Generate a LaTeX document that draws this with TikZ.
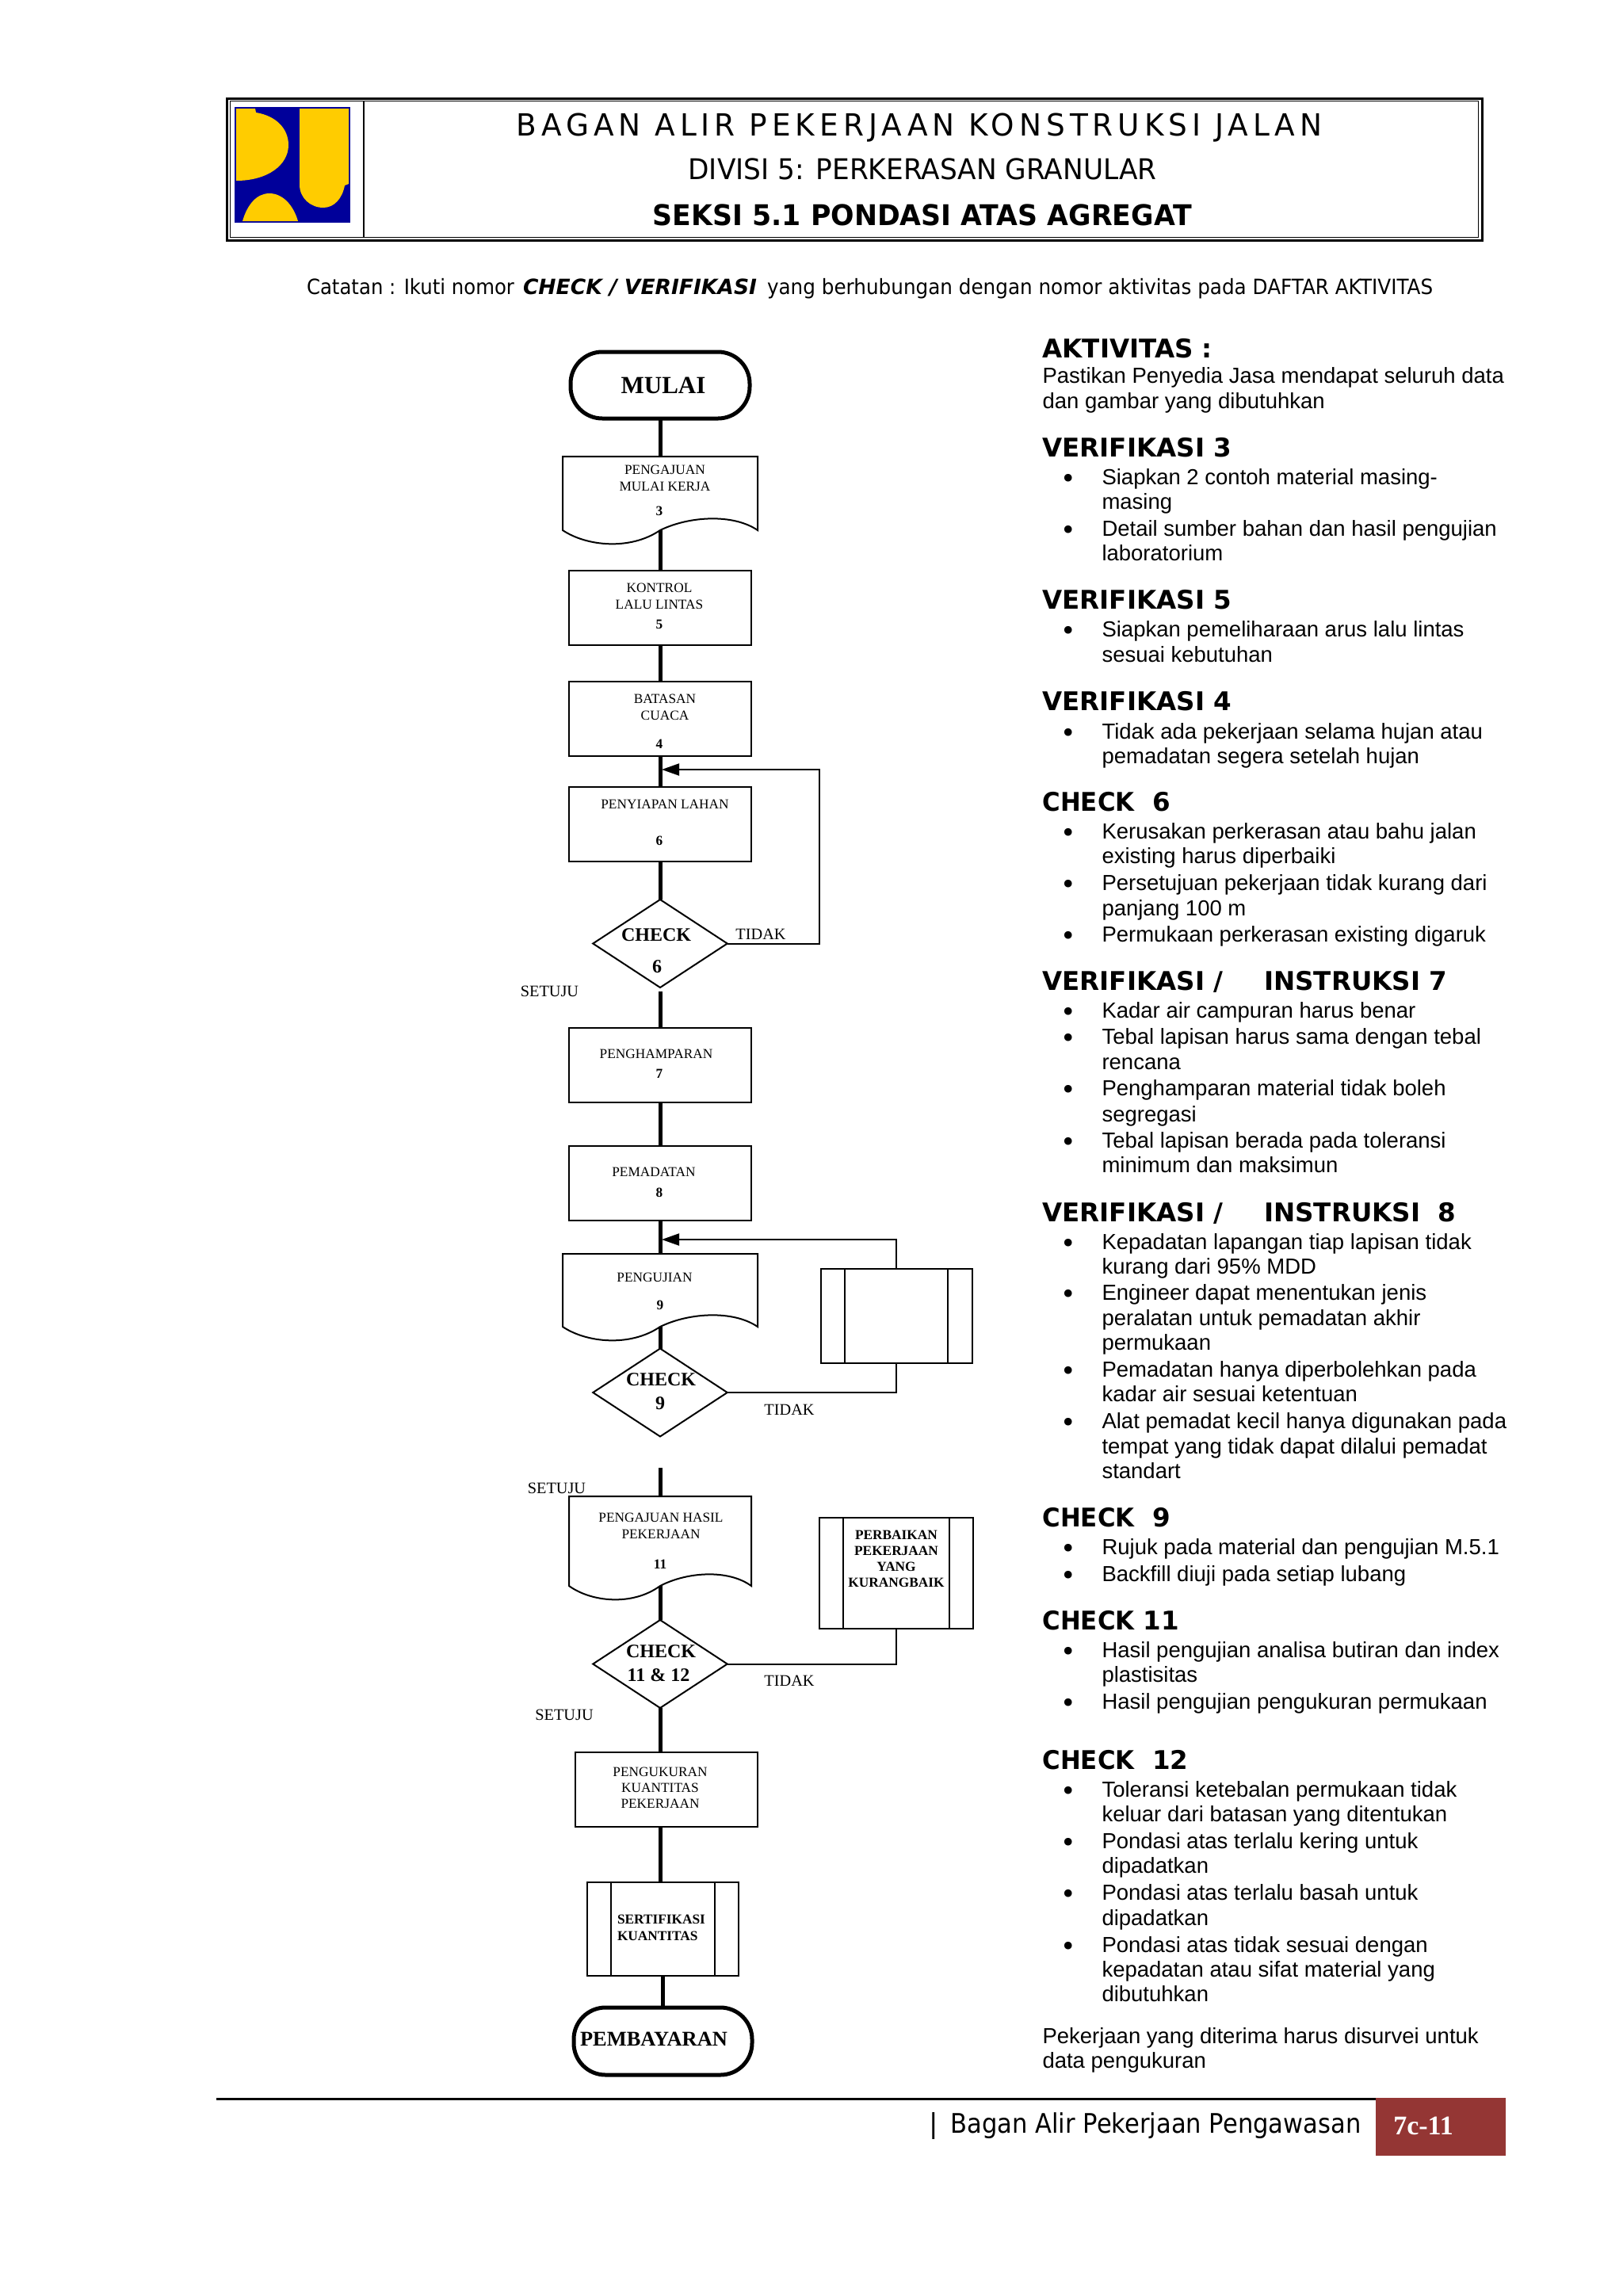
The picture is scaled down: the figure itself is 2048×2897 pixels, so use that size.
\documentclass[tikz,border=0pt]{standalone}
\usepackage{fontspec}
\usepackage{graphicx}
\usetikzlibrary{shapes.geometric,arrows.meta,calc}
\setmainfont{Liberation Sans}
\newfontfamily\tmsf{Liberation Serif}
\newfontfamily\djvf{DejaVu Sans}
\newfontfamily\djsp{DejaVu Sans}[LetterSpace=16]
\newcommand\pxs[1]{\fontsize{#1}{#1}\selectfont}
\newcommand\fitx[2]{\resizebox{#1pt}{\height}{#2}}
\newcommand\chk{\fitx{116}{CHECK}}
\definecolor{pwblue}{HTML}{00009A}
\definecolor{pwyellow}{HTML}{FFCC00}
\definecolor{pagered}{HTML}{943634}
\tikzset{
  shapebase/.style={inner sep=0pt,outer sep=0pt},
  procbox/.style={shapebase,draw=black,line width=2pt,fill=white,rectangle},
  terminal/.style={shapebase,draw=black,line width=5pt,rectangle,rounded corners=40pt},
  decision/.style={shapebase,draw=black,line width=2pt,diamond,minimum width=169.5pt,minimum height=111pt},
  spine/.style={draw=black,line width=5pt},
  link/.style={draw=black,line width=2pt},
  backlink/.style={link,-{Triangle[length=22pt,width=15pt]}},
  lbl/.style={inner sep=0pt,outer sep=0pt,text depth=0pt,align=center},
  tsm/.style={lbl,font=\tmsf\pxs{17.3},text height=11.4pt},
  tsb/.style={lbl,font=\tmsf\bfseries\pxs{17.3},text height=11.4pt},
  tmd/.style={lbl,font=\tmsf\pxs{20.3},text height=13.4pt},
  tck/.style={lbl,font=\tmsf\bfseries\pxs{24},text height=15.8pt},
  tml/.style={lbl,font=\tmsf\bfseries\pxs{31},text height=20.5pt},
  tpm/.style={lbl,font=\tmsf\bfseries\pxs{26.4},text height=17.4pt},
  hdtext/.style={inner sep=0pt,outer sep=0pt,anchor=base west,font=\djvf\bfseries\pxs{32.5}},
  bodytext/.style={inner sep=0pt,outer sep=0pt,anchor=base west,font=\pxs{27.5}},
  bullettext/.style={inner sep=0pt,outer sep=0pt,anchor=base,font=\djvf\pxs{33}},
  headtext/.style={inner sep=0pt,outer sep=0pt,anchor=base}
}
\newcommand\lab[5]{\node[#2] (#1) at (#3,#4) {#5};}
\newcommand\hdl[3]{\node[hdtext] (#1) at (1315.5,#2) {#3};}
\newcommand\bln[3]{\node[bodytext] (#1) at (1315.5,#2) {#3};}
\newcommand\cnt[3]{\node[bodytext] (#1) at (1390.5,#2) {#3};}
\newcommand\bul[3]{\node[bullettext] (#1b) at (1348,#2+4) {•};\node[bodytext] (#1) at (1390.5,#2) {#3};}
% name, cx, ytop, ybot, w
\newcommand\docnode[5]{%
  \node[shapebase,rectangle,minimum width=#5pt,minimum height=#4pt-#3pt] (#1) at (#2,#3/2+#4/2) {};
  \draw[link,fill=white] (#1.south west) -- (#1.north west) -- (#1.north east) -- (#1.south east)
    .. controls ($(#1.south east)+(-.125*#5,-21)$) and ($(#1.south)+(.15*#5,-18)$) .. (#1.south)
    .. controls ($(#1.south)+(-.155*#5,26)$) and ($(#1.south west)+(.12*#5,20)$) .. (#1.south west) -- cycle;}
% name, cx, cy, w, h, inset
\newcommand\subp[6]{%
  \node[procbox,minimum width=#4pt,minimum height=#5pt] (#1) at (#2,#3) {};
  \draw[link] ([xshift=#6pt]#1.north west) -- ([xshift=#6pt]#1.south west);
  \draw[link] ([xshift=-#6pt]#1.north east) -- ([xshift=-#6pt]#1.south east);}
\begin{document}
\begin{tikzpicture}[x=1pt,y=-1pt]
\useasboundingbox (0,0) rectangle (2048,2897);
% header frame
\node[shapebase,draw=black,line width=3pt,rectangle,minimum width=1584pt,minimum height=179pt] (frameout) at (1078,213.5) {};
\node[shapebase,draw=black,line width=1.5pt,rectangle,minimum width=1575pt,minimum height=172pt] (framein) at (1078,213.5) {};
\draw[line width=2pt] (459,127) -- (459,300);
% logo
\fill[pwblue] (296.3,135) rectangle (442,281);
\fill[pwyellow] (298,137) -- (322,137) -- (323,142)
  .. controls (348,146) and (364,162) .. (364,183)
  .. controls (364,208) and (338,228) .. (298,228) -- cycle;
\fill[pwyellow] (378,137) -- (440,137) -- (440,232) -- (435,234)
  .. controls (432,250) and (422,262) .. (408,262)
  .. controls (392,262) and (378,250) .. (378,233) -- cycle;
\fill[pwyellow] (306,279) .. controls (312,258) and (324,244) .. (340,244)
  .. controls (356,244) and (370,258) .. (376,279) -- cycle;
% header text
\node[headtext] (title1) at (1160,171) {\djsp\pxs{38.5}\fitx{1017}{BAGAN ALIR PEKERJAAN KONSTRUKSI JALAN}};
\node[headtext] (title2) at (1164,226) {\djvf\pxs{36}\fitx{591}{DIVISI 5: PERKERASAN GRANULAR}};
\node[headtext] (title3) at (1164,284) {\djvf\bfseries\pxs{36}\fitx{680}{SEKSI 5.1 PONDASI ATAS AGREGAT}};
\node[headtext,anchor=base west] (note) at (387,371) {\djvf\pxs{26.5}\fitx{262}{Catatan : Ikuti nomor}\hspace{11pt}\fitx{295}{\textbf{\textit{CHECK / VERIFIKASI}}}\hspace{13pt}\fitx{840}{yang berhubungan dengan nomor aktivitas pada DAFTAR AKTIVITAS}};
% flowchart shapes
\node[terminal,minimum width=226pt,minimum height=84pt] (mulai) at (833,486) {};
\docnode{doc3}{833}{576}{669}{246}
\node[procbox,minimum width=230pt,minimum height=94pt] (kontrol) at (833,767) {};
\node[procbox,minimum width=230pt,minimum height=94pt] (batasan) at (833,907) {};
\node[procbox,minimum width=230pt,minimum height=94pt] (penyiapan) at (833,1039.5) {};
\node[decision] (chk6) at (833,1190.5) {};
\coordinate (gap6) at (833,1251);
\node[procbox,minimum width=230pt,minimum height=94pt] (pengham) at (833,1344) {};
\node[procbox,minimum width=230pt,minimum height=94pt] (pemadatan) at (833,1493) {};
\docnode{doc9}{833}{1582}{1674}{246}
\node[decision] (chk9) at (833,1757) {};
\subp{subA}{1131}{1660.5}{191}{119}{30.5}
\coordinate (gap9) at (833,1852);
\docnode{doc11}{833}{1888}{2001}{230}
\subp{perbaikan}{1131}{1985}{194}{140}{30}
\node[decision] (chk11) at (833,2099.5) {};
\node[procbox,minimum width=230pt,minimum height=94pt] (pengukuran) at (841,2258) {};
\subp{sertif}{836.5}{2434}{191}{118}{30}
\node[terminal,minimum width=225pt,minimum height=85pt] (pembayaran) at (836.5,2575.5) {};
% spine connectors
\draw[spine] (mulai.south) -- (doc3.north);
\draw[spine] (doc3.south) -- (kontrol.north);
\draw[spine] (kontrol.south) -- (batasan.north);
\draw[spine] (batasan.south) -- (penyiapan.north);
\draw[spine] (penyiapan.south) -- (chk6.north);
\draw[spine] (gap6) -- (pengham.north);
\draw[spine] (pengham.south) -- (pemadatan.north);
\draw[spine] (pemadatan.south) -- (doc9.north);
\draw[spine] (doc9.south) -- (chk9.north);
\draw[spine] (gap9) -- (doc11.north);
\draw[spine] (doc11.south) -- (chk11.north);
\draw[spine] (chk11.south) -- (chk11.south |- pengukuran.north);
\draw[spine] (chk11.south |- pengukuran.south) -- (chk11.south |- sertif.north);
\draw[spine] (sertif.south) -- (pembayaran.north);
% loop connectors
\coordinate (turn6) at (1034,971);
\coordinate (in6) at (835,971);
\draw[backlink] (chk6.east) -| (turn6) -- (in6);
\coordinate (in9) at (835,1564);
\coordinate (turn9) at (subA.north |- in9);
\draw[backlink] (subA.north) -- (turn9) -- (in9);
\draw[link] (chk9.east) -| (subA.south);
\draw[link] (chk11.east) -| (perbaikan.south);
% flowchart labels
\lab{tMulai}{tml}{837}{486}{MULAI}
\lab{t3a}{tsm}{839}{593}{PENGAJUAN}
\lab{t3b}{tsm}{839}{614}{MULAI KERJA}
\lab{t3c}{tsb}{832}{645}{3}
\lab{t5a}{tsm}{832}{742}{KONTROL}
\lab{t5b}{tsm}{832}{763}{LALU LINTAS}
\lab{t5c}{tsb}{832}{788}{5}
\lab{t4a}{tsm}{839}{882}{BATASAN}
\lab{t4b}{tsm}{839}{903}{CUACA}
\lab{t4c}{tsb}{832}{939}{4}
\lab{t6a}{tsm}{839}{1015}{PENYIAPAN LAHAN}
\lab{t6b}{tsb}{832}{1061}{6}
\lab{c6a}{tck}{828}{1180}{CHECK}
\lab{c6b}{tck}{829}{1220}{6}
\lab{no6}{tmd}{960}{1179}{TIDAK}
\lab{yes6}{tmd}{693.5}{1251}{SETUJU}
\lab{t7a}{tsm}{828}{1330}{PENGHAMPARAN}
\lab{t7b}{tsb}{832}{1355}{7}
\lab{t8a}{tsm}{825}{1479}{PEMADATAN}
\lab{t8b}{tsb}{832}{1505}{8}
\lab{t9a}{tsm}{826}{1612}{PENGUJIAN}
\lab{t9b}{tsb}{833}{1647}{9}
\lab{c9a}{tck}{834}{1741}{CHECK}
\lab{c9b}{tck}{833}{1771}{9}
\lab{no9}{tmd}{996}{1779}{TIDAK}
\lab{yes9}{tmd}{702.5}{1878}{SETUJU}
\lab{t11a}{tsm}{834}{1915}{PENGAJUAN HASIL}
\lab{t11b}{tsm}{834}{1936}{PEKERJAAN}
\lab{t11c}{tsb}{833}{1974}{11}
\lab{pb1}{tsb}{1131}{1937}{PERBAIKAN}
\lab{pb2}{tsb}{1131}{1957}{PEKERJAAN}
\lab{pb3}{tsb}{1131}{1977}{YANG}
\lab{pb4}{tsb}{1131}{1997}{KURANGBAIK}
\lab{c11a}{tck}{834}{2084}{CHECK}
\lab{c11b}{tck}{831}{2114}{11 \& 12}
\lab{no11}{tmd}{996}{2121}{TIDAK}
\lab{yes11}{tmd}{712}{2164}{SETUJU}
\lab{pk1}{tsm}{833}{2236}{PENGUKURAN}
\lab{pk2}{tsm}{833}{2256}{KUANTITAS}
\lab{pk3}{tsm}{833}{2276}{PEKERJAAN}
\node[tsb,anchor=west] (sq1) at (779,2422) {SERTIFIKASI};
\node[tsb,anchor=west] (sq2) at (779,2443) {KUANTITAS};
\lab{tPem}{tpm}{825}{2573}{PEMBAYARAN}
% right column
\hdl{h0}{451}{AKTIVITAS :}
\bln{a1}{483}{Pastikan Penyedia Jasa mendapat seluruh data}
\bln{a2}{515}{dan gambar yang dibutuhkan}
\hdl{h3}{576}{VERIFIKASI 3}
\bul{v3a}{611}{Siapkan 2 contoh material masing-}
\cnt{v3b}{642}{masing}
\bul{v3c}{676}{Detail sumber bahan dan hasil pengujian}
\cnt{v3d}{707}{laboratorium}
\hdl{h5}{768}{VERIFIKASI 5}
\bul{v5a}{803}{Siapkan pemeliharaan arus lalu lintas}
\cnt{v5b}{835}{sesuai kebutuhan}
\hdl{h4}{896}{VERIFIKASI 4}
\bul{v4a}{932}{Tidak ada pekerjaan selama hujan atau}
\cnt{v4b}{963}{pemadatan segera setelah hujan}
\hdl{h6}{1023}{\chk\ \ 6}
\bul{k6a}{1058}{Kerusakan perkerasan atau bahu jalan}
\cnt{k6b}{1089}{existing harus diperbaiki}
\bul{k6c}{1123}{Persetujuan pekerjaan tidak kurang dari}
\cnt{k6d}{1155}{panjang 100 m}
\bul{k6e}{1188}{Permukaan perkerasan existing digaruk}
\hdl{h7}{1249}{VERIFIKASI /\hspace{52pt}INSTRUKSI 7}
\bul{i7a}{1284}{Kadar air campuran harus benar}
\bul{i7b}{1317}{Tebal lapisan harus sama dengan tebal}
\cnt{i7c}{1349}{rencana}
\bul{i7d}{1382}{Penghamparan material tidak boleh}
\cnt{i7e}{1415}{segregasi}
\bul{i7f}{1448}{Tebal lapisan berada pada toleransi}
\cnt{i7g}{1479}{minimum dan maksimun}
\hdl{h8}{1541}{VERIFIKASI /\hspace{52pt}INSTRUKSI\ \ 8}
\bul{i8a}{1576}{Kepadatan lapangan tiap lapisan tidak}
\cnt{i8b}{1607}{kurang dari 95\% MDD}
\bul{i8c}{1640}{Engineer dapat menentukan jenis}
\cnt{i8d}{1672}{peralatan untuk pemadatan akhir}
\cnt{i8e}{1703}{permukaan}
\bul{i8f}{1737}{Pemadatan hanya diperbolehkan pada}
\cnt{i8g}{1768}{kadar air sesuai ketentuan}
\bul{i8h}{1802}{Alat pemadat kecil hanya digunakan pada}
\cnt{i8i}{1834}{tempat yang tidak dapat dilalui pemadat}
\cnt{i8j}{1865}{standart}
\hdl{h9}{1926}{\chk\ \ 9}
\bul{k9a}{1961}{Rujuk pada material dan pengujian M.5.1}
\bul{k9b}{1995}{Backfill diuji pada setiap lubang}
\hdl{h11}{2056}{\chk\ 11}
\bul{k11a}{2091}{Hasil pengujian analisa butiran dan index}
\cnt{k11b}{2122}{plastisitas}
\bul{k11c}{2156}{Hasil pengujian pengukuran permukaan}
\hdl{h12}{2232}{\chk\ \ 12}
\bul{k12a}{2267}{Toleransi ketebalan permukaan tidak}
\cnt{k12b}{2298}{keluar dari batasan yang ditentukan}
\bul{k12c}{2332}{Pondasi atas terlalu kering untuk}
\cnt{k12d}{2363}{dipadatkan}
\bul{k12e}{2397}{Pondasi atas terlalu basah untuk}
\cnt{k12f}{2429}{dipadatkan}
\bul{k12g}{2463}{Pondasi atas tidak sesuai dengan}
\cnt{k12h}{2494}{kepadatan atau sifat material yang}
\cnt{k12i}{2525}{dibutuhkan}
\bln{z1}{2578}{Pekerjaan yang diterima harus disurvei untuk}
\bln{z2}{2609}{data pengukuran}
% footer
\draw[line width=3pt,black] (273,2648) -- (1736,2648);
\fill[pagered] (1736,2647) rectangle (1900,2720);
\node[headtext,anchor=base west] (foot) at (1172,2691) {\djvf\pxs{34}|\hspace{16pt}\fitx{518}{Bagan Alir Pekerjaan Pengawasan}};
\node[lbl,font=\tmsf\bfseries\pxs{34},text=white,text height=22.5pt] (pageno) at (1796,2682) {7c-11};
\end{tikzpicture}
\end{document}
